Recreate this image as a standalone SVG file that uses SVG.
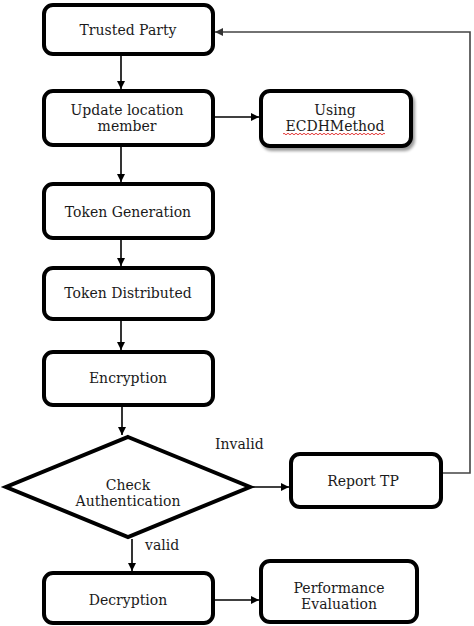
<svg xmlns="http://www.w3.org/2000/svg" width="474" height="626" viewBox="0 0 474 626">
<defs>
<marker id="ah" viewBox="0 0 10 10" refX="10" refY="5" markerWidth="8" markerHeight="8" markerUnits="userSpaceOnUse" orient="auto">
<path d="M0,0 L10,5 L0,10 z" fill="#000"/>
</marker>
<marker id="ahg" viewBox="0 0 10 10" refX="10" refY="5" markerWidth="8" markerHeight="8" markerUnits="userSpaceOnUse" orient="auto">
<path d="M0,0 L10,5 L0,10 z" fill="#333"/>
</marker>
<filter id="sh" x="-10%" y="-10%" width="130%" height="130%">
<feGaussianBlur in="SourceAlpha" stdDeviation="1.5"/>
<feOffset dx="2" dy="3"/>
<feComponentTransfer><feFuncA type="linear" slope="0.4"/></feComponentTransfer>
<feMerge><feMergeNode/><feMergeNode in="SourceGraphic"/></feMerge>
</filter>
</defs>
<style>
.box{fill:#fff;stroke:#000;stroke-width:4}
.t{font-family:"DejaVu Serif","Liberation Serif",serif;font-size:14px;fill:#1a1a1a;text-anchor:middle}
.l{font-family:"DejaVu Serif","Liberation Serif",serif;font-size:14px;fill:#1a1a1a}
.c{fill:none;stroke:#000;stroke-width:1.6}
</style>
<rect width="474" height="626" fill="#fff"/>
<g id="connectors">
<line class="c" x1="121" y1="56" x2="121" y2="89" marker-end="url(#ah)"/>
<line class="c" x1="215" y1="117" x2="259" y2="117" marker-end="url(#ah)"/>
<line class="c" x1="121" y1="147" x2="121" y2="182" marker-end="url(#ah)"/>
<line class="c" x1="121" y1="240" x2="121" y2="266" marker-end="url(#ah)"/>
<line class="c" x1="121" y1="321" x2="121" y2="350" marker-end="url(#ah)"/>
<line class="c" x1="122" y1="407" x2="122" y2="435" marker-end="url(#ah)"/>
<line class="c" x1="252" y1="487" x2="289" y2="487" stroke="#333" marker-end="url(#ah)"/>
<polyline points="442,473 470,473 470,32 215,32" fill="none" stroke="#444" stroke-width="1.6" marker-end="url(#ahg)"/>
<line class="c" x1="132" y1="539" x2="132" y2="571" marker-end="url(#ah)"/>
<line class="c" x1="215" y1="600" x2="259" y2="600" marker-end="url(#ah)"/>
<text class="l" x="215" y="449">Invalid</text>
<text class="l" x="145" y="550">valid</text>
</g>
<g id="trusted-party">
<rect class="box" x="44" y="5" width="169" height="49" rx="9"/>
<text class="t" x="128" y="35">Trusted Party</text>
</g>
<g id="update-location">
<rect class="box" x="44" y="91" width="169" height="54" rx="9"/>
<text class="t" x="127" y="115">Update location</text>
<text class="t" x="127" y="131">member</text>
</g>
<g id="using-ecdh">
<rect class="box" x="261" y="91" width="150" height="55" rx="9" stroke-width="5" filter="url(#sh)"/>
<text class="t" x="335" y="115">Using</text>
<text class="t" x="335" y="131">ECDHMethod</text>
<path d="M283,134 q1,-1.5 2,0 t2,0 t2,0 t2,0 t2,0 t2,0 t2,0 t2,0 t2,0 t2,0 t2,0 t2,0 t2,0 t2,0 t2,0 t2,0 t2,0 t2,0 t2,0 t2,0 t2,0 t2,0 t2,0 t2,0 t2,0 t2,0 t2,0 t2,0 t2,0 t2,0 t2,0 t2,0 t2,0 t2,0 t2,0 t2,0 t2,0 t2,0 t2,0 t2,0 t2,0 t2,0 t2,0 t2,0 t2,0 t2,0 t2,0 t2,0 t2,0 t2,0 t2,0" fill="none" stroke="#e02020" stroke-width="0.9"/>
</g>
<g id="token-generation">
<rect class="box" x="44" y="184" width="169" height="54" rx="9"/>
<text class="t" x="128" y="217">Token Generation</text>
</g>
<g id="token-distributed">
<rect class="box" x="44" y="268" width="169" height="51" rx="9"/>
<text class="t" x="128" y="298">Token Distributed</text>
</g>
<g id="encryption">
<rect class="box" x="44" y="352" width="169" height="53" rx="9"/>
<text class="t" x="128" y="383">Encryption</text>
</g>
<g id="check-authentication">
<polygon points="128,437 250,487 128,537 6,487" fill="#fff" stroke="#000" stroke-width="4" stroke-linejoin="miter"/>
<text class="t" x="128" y="490">Check</text>
<text class="t" x="128" y="506">Authentication</text>
</g>
<g id="report-tp">
<rect class="box" x="291" y="454" width="150" height="53" rx="9"/>
<text class="t" x="363" y="486">Report TP</text>
</g>
<g id="decryption">
<rect class="box" x="44" y="573" width="169" height="50" rx="9"/>
<text class="t" x="128" y="605">Decryption</text>
</g>
<g id="performance-evaluation">
<rect class="box" x="261" y="561" width="156" height="61" rx="9"/>
<text class="t" x="339" y="593">Performance</text>
<text class="t" x="339" y="609">Evaluation</text>
</g>
</svg>
